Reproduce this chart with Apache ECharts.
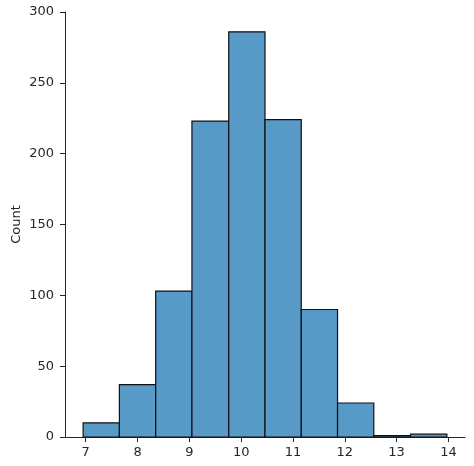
<!DOCTYPE html>
<html>
<head>
<meta charset="utf-8">
<script src="https://cdn.jsdelivr.net/npm/echarts@6/dist/echarts.min.js"></script>
<style>
    html, body { margin: 0; padding: 0; background: #fff; }
    #chart { width: 474px; height: 466px; }
</style>
</head>
<body>
<div id="chart"></div>
<script>
// bin edges of the histogram (x values)
var binEdges = [6.95, 7.65, 8.35, 9.05, 9.76, 10.46, 11.16, 11.86, 12.56, 13.27, 13.97];
// count in each bin
var binCounts = [10, 37, 103, 223, 286, 224, 90, 24, 1, 2];
// tick labels
var xTicks = [7, 8, 9, 10, 11, 12, 13, 14];
var yTicks = [0, 50, 100, 150, 200, 250, 300];

var chart = echarts.init(document.getElementById('chart'));

var barData = [];
for (var i = 0; i < binCounts.length; i++) {
    barData.push([binEdges[i], binEdges[i + 1], binCounts[i]]);
}

var axisColor = '#262626';
var labelFont = {
    color: axisColor,
    fontFamily: 'DejaVu Sans',
    fontSize: 13
};

var option = {
    animation: false,
    backgroundColor: '#fff',
    grid: {
        left: 65,
        right: 9,
        top: 12,
        bottom: 29,
        containLabel: false,
        outerBoundsMode: 'none'
    },
    xAxis: {
        type: 'value',
        min: 6.6,
        max: 14.32,
        axisLine: { show: true, lineStyle: { color: axisColor, width: 1 } },
        axisTick: { show: true, length: 5, customValues: xTicks, lineStyle: { color: axisColor } },
        axisLabel: Object.assign({ margin: 9, customValues: xTicks }, labelFont),
        splitLine: { show: false }
    },
    yAxis: {
        type: 'value',
        min: 0,
        max: 300,
        name: 'Count',
        nameLocation: 'middle',
        nameGap: 42,
        nameMoveOverlap: false,
        nameTextStyle: labelFont,
        axisLine: { show: true, lineStyle: { color: axisColor, width: 1 } },
        axisTick: { show: true, length: 5, customValues: yTicks, lineStyle: { color: axisColor } },
        axisLabel: Object.assign({ margin: 11, customValues: yTicks }, labelFont),
        splitLine: { show: false }
    },
    series: [{
        type: 'custom',
        data: barData,
        renderItem: function (params, api) {
            var p0 = api.coord([api.value(0), 0]);
            var p1 = api.coord([api.value(1), api.value(2)]);
            return {
                type: 'rect',
                shape: {
                    x: p0[0],
                    y: p1[1],
                    width: p1[0] - p0[0],
                    height: p0[1] - p1[1]
                },
                style: {
                    fill: '#5799c7',
                    stroke: '#111',
                    lineWidth: 1.2
                }
            };
        }
    }]
};

chart.setOption(option);
</script>
</body>
</html>
